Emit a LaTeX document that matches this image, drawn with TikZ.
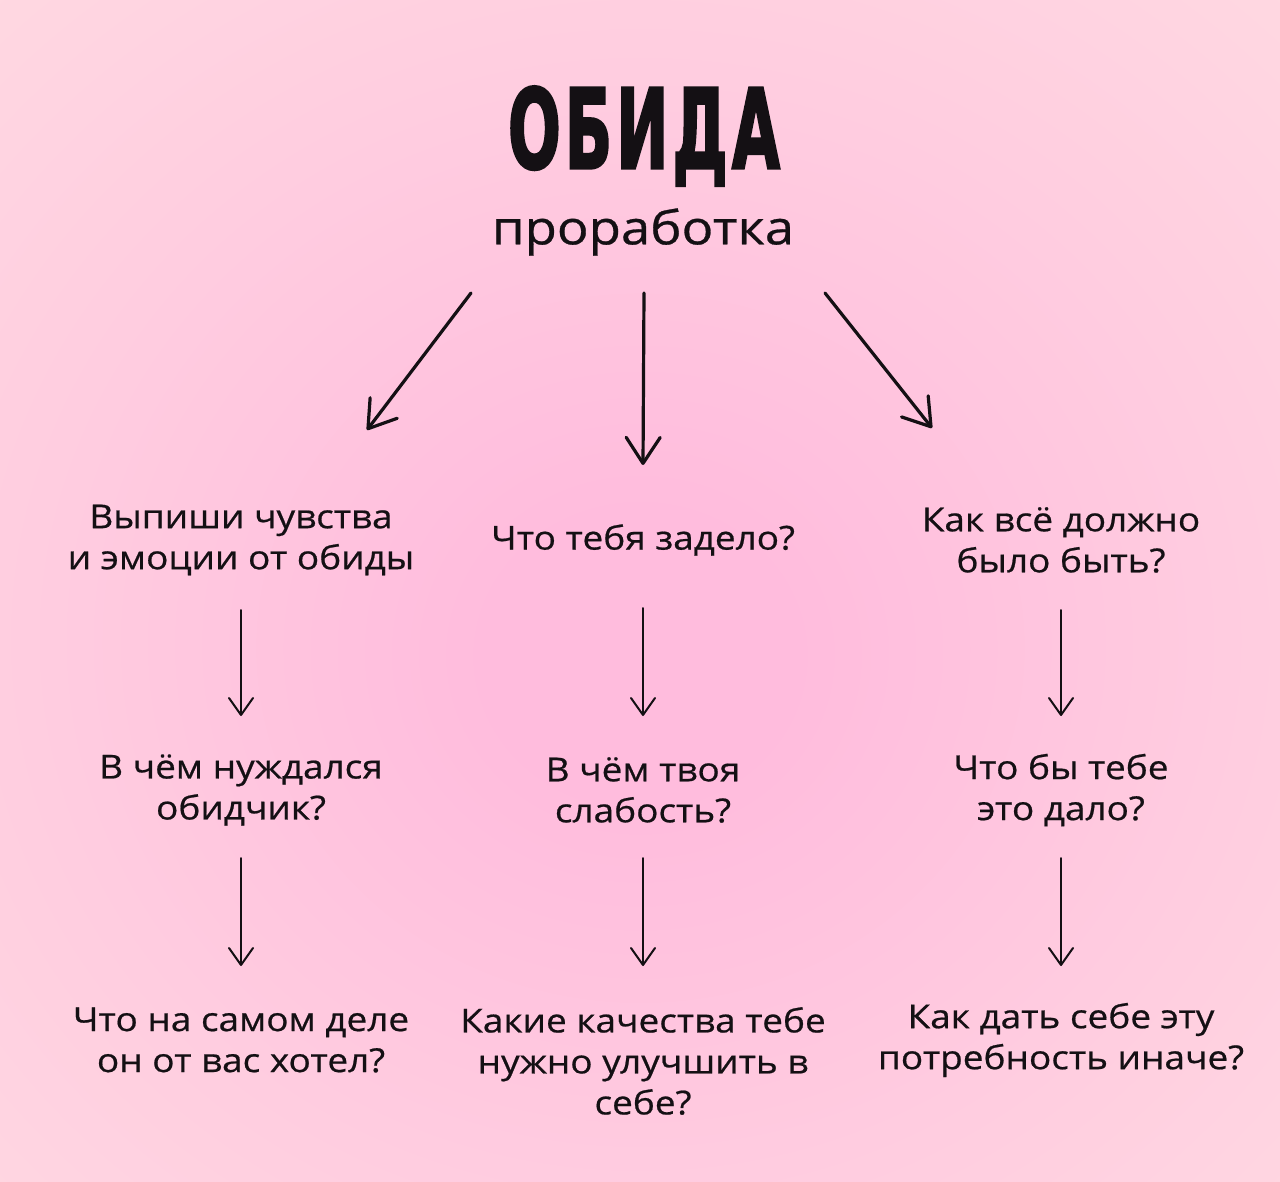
\documentclass[tikz,border=0pt]{standalone}
\usepackage{fontspec}
\usepackage{graphicx}
\usetikzlibrary{arrows.meta}
\setmainfont{Open Sans}[FakeStretch=1.12, FakeBold=0.6]
\newfontfamily\titlefont{DejaVu Sans Condensed}[LetterSpace=6, FakeBold=2.5]
\definecolor{pinkc}{HTML}{FFBCDD}
\definecolor{midc}{HTML}{FFCDE0}
\definecolor{edgec}{HTML}{FFDEE2}
\definecolor{cornerc}{HTML}{FFEEE6}
\definecolor{inkc}{HTML}{141014}
\pgfdeclareradialshading{bgshade}{\pgfpoint{0bp}{-3bp}}{color(0bp)=(pinkc); color(6bp)=(pinkc); color(24bp)=(midc); color(44bp)=(edgec); color(62bp)=(cornerc); color(75bp)=(cornerc)}
\tikzset{
  txt/.style={align=center, text=inkc, inner sep=0pt, font=\fontsize{33}{41}\selectfont},
  bigarr/.style={draw=inkc, line width=3.2pt, line cap=round, -{Straight Barb[length=26pt,width=34pt,round]}},
  smallarr/.style={draw=inkc, line width=2pt, line cap=round, -{Straight Barb[length=17pt,width=24pt,round]}}
}
\begin{document}
\begin{tikzpicture}[x=1pt,y=-1pt]
\useasboundingbox (0,0) rectangle (1280,1182);
\shade[shading=bgshade] (0,0) rectangle (1280,1182);

\node[text=inkc, inner sep=0pt] (title) at (644,136) {\resizebox{272pt}{82pt}{\titlefont\bfseries ОБИДА}};
\node[txt, font=\fontsize{47}{50}\selectfont] (sub) at (643,232) {проработка};

\node[txt] (l1) at (241,540) {Выпиши чувства\\и эмоции от обиды};
\node[txt] (c1) at (643,540) {Что тебя задело?};
\node[txt] (r1) at (1061,540) {Как всё должно\\было быть?};

\node[txt] (l2) at (241,790) {В чём нуждался\\обидчик?};
\node[txt] (c2) at (643,790) {В чём твоя\\слабость?};
\node[txt] (r2) at (1061,790) {Что бы тебе\\это дало?};

\node[txt] (l3) at (241,1040) {Что на самом деле\\он от вас хотел?};
\node[txt] (c3) at (643,1061) {Какие качества тебе\\нужно улучшить в\\себе?};
\node[txt] (r3) at (1061,1040) {Как дать себе эту\\потребность иначе?};

\draw[bigarr] ([xshift=-172pt,yshift=-61pt]sub.center) -- ([xshift=126pt,yshift=110pt]l1.center);
\draw[bigarr] ([xshift=1pt,yshift=-61pt]sub.center) -- ([yshift=75pt]c1.center);
\draw[bigarr] ([xshift=182pt,yshift=-61pt]sub.center) -- ([xshift=-129pt,yshift=112pt]r1.center);

\draw[smallarr] ([yshift=-70pt]l1.center) -- ([yshift=74pt]l2.center);
\draw[smallarr] ([yshift=-68pt]c1.center) -- ([yshift=74pt]c2.center);
\draw[smallarr] ([yshift=-70pt]r1.center) -- ([yshift=74pt]r2.center);

\draw[smallarr] ([yshift=-68pt]l2.center) -- ([yshift=74pt]l3.center);
\draw[smallarr] ([yshift=-68pt]c2.center) -- ([yshift=95pt]c3.center);
\draw[smallarr] ([yshift=-68pt]r2.center) -- ([yshift=74pt]r3.center);
\end{tikzpicture}
\end{document}
